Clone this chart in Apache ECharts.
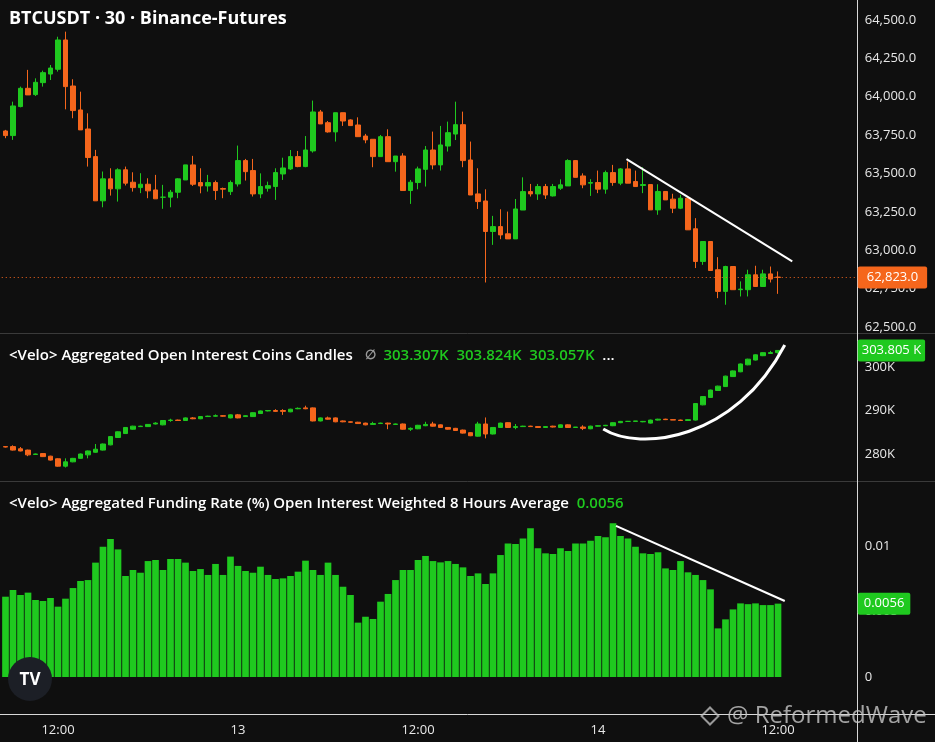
<!DOCTYPE html>
<html><head><meta charset="utf-8">
<script src="https://cdn.jsdelivr.net/npm/echarts@6/dist/echarts.min.js"></script>
<style>html,body{margin:0;padding:0;background:#0f0f0f}#c{width:935px;height:742px}</style>
</head><body><div id="c"></div>
<script>
// ---------- DATA ----------
const firstCandle = { day: 12, hour: 8, minute: 30 };   // first 30-minute bar
const padBars = 10;                                       // empty slots right of last bar
const xTickLabels = { '12 12:00': '12:00', '13 00:00': '13', '13 12:00': '12:00', '14 00:00': '14', '14 12:00': '12:00' };

const priceOpen  = [63777,63747,63936,64055,64014,64092,64148,64179,64370,64070,63914,63790,63610,63322,63465,63400,63524,63443,63408,63430,63393,63345,63346,63378,63458,63556,63441,63419,63441,63402,63382,63432,63584,63519,63367,63404,63415,63497,63530,63610,63545,63647,63901,63831,63771,63896,63849,63816,63744,63723,63610,63740,63577,63614,63389,63441,63527,63653,63556,63679,63757,63818,63588,63367,63321,63122,63154,63107,63074,63262,63382,63367,63415,63354,63404,63419,63584,63484,63437,63441,63398,63506,63437,63530,63448,63422,63428,63263,63383,63333,63274,63339,63140,62927,63057,62873,62732,62894,62743,62743,62840,62764,62846,62825];
const priceHigh  = [63784,63968,64066,64175,64120,64170,64207,64391,64424,64114,64033,63892,63654,63513,63534,63534,63545,63508,63502,63469,63491,63426,63393,63469,63556,63615,63534,63491,63454,63408,63454,63682,63595,63595,63501,63447,63534,63603,63653,63647,63744,63975,63914,63842,63896,63896,63853,63866,63758,63723,63751,63788,63614,63632,63458,63545,63679,63773,63810,63838,63968,63903,63708,63534,63397,63224,63267,63252,63334,63475,63432,63432,63432,63432,63462,63593,63588,63501,63463,63519,63519,63556,63535,63578,63519,63541,63428,63430,63383,63368,63361,63339,63209,63057,63057,62955,62899,62894,62797,62873,62899,62873,62894,62862];
const priceLow   = [63730,63719,63931,64012,64005,64066,64109,64164,63918,63860,63784,63545,63322,63280,63356,63317,63422,63382,63372,63339,63335,63270,63280,63339,63458,63419,63371,63382,63328,63339,63360,63415,63454,63350,63339,63382,63328,63458,63523,63541,63541,63636,63823,63766,63708,63810,63810,63740,63697,63541,63610,63577,63512,63389,63302,63397,63415,63527,63519,63643,63718,63541,63360,63269,62790,63035,63072,63074,63074,63262,63350,63328,63334,63350,63393,63419,63475,63404,63354,63372,63368,63420,63424,63437,63415,63372,63263,63231,63328,63242,63268,63133,62884,62905,62868,62688,62645,62743,62699,62699,62764,62768,62790,62716];
const priceClose = [63747,63940,64055,64012,64094,64157,64187,64370,64066,63910,63784,63604,63322,63465,63400,63524,63437,63408,63430,63387,63335,63346,63378,63465,63556,63430,63419,63441,63389,63398,63441,63584,63512,63367,63415,63421,63506,63536,63610,63545,63653,63901,63823,63771,63896,63842,63812,63740,63719,63610,63740,63577,63614,63389,63443,63530,63653,63556,63686,63766,63818,63584,63360,63317,63122,63154,63100,63074,63269,63382,63367,63415,63360,63415,63426,63584,63475,63426,63441,63398,63506,63441,63530,63437,63415,63428,63263,63383,63328,63274,63339,63133,62927,63057,62868,62732,62894,62743,62747,62840,62764,62846,62812,62823];
const lastPrice = 62823.0;

// Open interest, thousands of coins
const oiOpen  = [281.7,281.7,281.2,280.9,279.9,280.1,279.5,278.9,277.2,278.2,279.0,279.8,280.4,280.9,282.1,283.8,284.7,285.7,286.3,286.3,286.9,286.7,287.7,287.8,287.7,288.3,288.1,288.6,288.7,288.8,288.3,289.0,288.6,288.6,289.3,289.9,290.0,290.0,289.7,290.4,290.6,290.6,287.6,288.3,288.3,287.6,287.4,287.3,287.1,286.8,287.0,287.1,286.8,286.9,285.7,285.8,286.5,286.9,286.7,286.1,285.9,285.5,284.9,284.1,286.9,284.6,286.1,287.2,286.1,286.3,286.4,286.3,286.1,286.4,286.1,286.7,286.1,286.2,285.8,286.4,286.5,286.5,287.2,287.5,287.5,287.4,287.1,287.8,288.0,287.9,287.8,287.7,287.8,291.3,293.0,294.6,295.5,297.8,298.9,300.5,301.6,302.6,303.1,303.307];
const oiHigh  = [281.8,282.0,281.6,281.0,280.1,280.2,279.6,279.0,279.0,279.1,280.1,280.8,282.3,282.4,284.1,285.2,286.2,286.5,286.5,286.9,287.3,287.8,288.1,287.9,288.4,288.5,288.7,288.8,289.1,288.9,289.1,289.2,288.9,289.6,290.0,290.1,290.3,290.3,290.4,290.7,291.1,290.7,288.4,288.6,288.4,287.7,287.5,287.4,287.2,287.4,287.2,287.2,287.0,287.0,286.1,286.7,287.4,287.4,286.8,286.2,286.0,285.6,285.0,287.4,288.4,286.2,287.2,287.3,286.9,286.5,286.5,286.4,286.4,286.5,286.8,286.8,286.2,286.6,286.5,286.6,286.7,287.3,287.6,287.6,287.6,287.6,287.9,288.1,288.1,288.0,287.9,288.0,291.7,293.3,294.8,295.7,298.0,299.2,300.8,301.9,302.9,303.4,303.7,303.824];
const oiLow   = [281.5,280.8,280.6,279.5,279.8,279.3,278.5,277.1,276.9,278.1,278.9,279.0,280.3,280.8,282.0,283.7,284.6,285.6,286.2,286.2,286.8,286.6,287.4,287.6,287.6,288.0,288.0,288.5,288.6,288.6,288.2,288.2,288.5,288.5,289.2,289.8,289.7,289.0,289.6,290.3,290.3,287.5,287.5,287.9,287.3,287.3,287.2,286.9,286.6,286.7,286.9,285.7,286.7,285.6,285.3,285.7,286.4,286.3,286.0,285.6,285.3,284.7,284.1,284.0,283.6,284.5,286.0,286.0,285.7,286.2,286.2,286.0,286.0,286.1,286.0,286.0,286.0,285.5,285.7,286.3,286.4,286.4,287.1,287.4,287.4,287.3,287.0,287.7,287.8,287.8,287.6,287.6,287.7,291.2,292.9,294.5,295.4,297.7,298.8,300.4,301.5,302.5,303.0,303.057];
const oiClose = [281.6,280.9,280.7,279.8,280.0,279.4,278.6,277.2,278.2,279.0,280.0,280.7,281.1,282.3,284.0,285.1,286.1,286.4,286.4,286.8,287.1,287.7,287.8,287.7,288.3,288.1,288.6,288.7,288.8,288.7,289.0,288.3,288.8,289.5,289.9,290.0,289.8,289.8,290.3,290.5,290.4,287.6,288.3,288.0,287.4,287.4,287.3,287.0,286.7,287.0,287.1,286.9,286.9,285.7,285.9,286.6,286.8,286.4,286.1,285.7,285.4,284.8,284.2,286.9,284.6,286.1,287.1,286.1,286.3,286.4,286.3,286.1,286.3,286.2,286.7,286.1,286.2,285.9,286.4,286.5,286.6,287.2,287.5,287.5,287.6,287.5,287.8,288.0,287.9,287.8,287.7,287.9,291.6,293.2,294.7,295.6,297.9,299.1,300.7,301.8,302.8,303.3,303.307,303.805];
const oiHeader = ['303.307K', '303.824K', '303.057K'];
const lastOI = 303.805;

// Funding rate (%), OI-weighted 8h average
const funding = [0.00613,0.00664,0.00626,0.00644,0.00588,0.00580,0.00603,0.00537,0.00598,0.00679,0.00733,0.00740,0.00873,0.00995,0.01053,0.00974,0.00771,0.00817,0.00796,0.00885,0.00893,0.00817,0.00901,0.00901,0.00873,0.00809,0.00824,0.00779,0.00863,0.00779,0.00919,0.00848,0.00809,0.00796,0.00842,0.00779,0.00748,0.00753,0.00771,0.00804,0.00888,0.00817,0.00779,0.00873,0.00779,0.00689,0.00626,0.00415,0.00460,0.00443,0.00575,0.00634,0.00740,0.00817,0.00817,0.00893,0.00924,0.00885,0.00875,0.00885,0.00863,0.00837,0.00771,0.00791,0.00710,0.00791,0.00931,0.01020,0.01015,0.01058,0.01135,0.00982,0.00944,0.00939,0.00982,0.00962,0.01020,0.01020,0.01040,0.01076,0.01066,0.01173,0.01076,0.01058,0.00995,0.00944,0.00939,0.00952,0.00829,0.00817,0.00885,0.00799,0.00779,0.00740,0.00669,0.00371,0.00440,0.00516,0.00562,0.00556,0.00562,0.00549,0.00549,0.00560];
const lastFunding = 0.0056;

// Hand-drawn annotations, in [bar index, value]
const priceTrend = [[82.8, 63593], [104.9, 62927]];
const oiCurve = [[79.7, 285.75], [84.6, 280.46], [97.3, 283.2], [103.9, 305.06]];
const fundingTrend = [[81.4, 0.01153], [103.9, 0.0058]];

// ---------- BUILD ----------
const UP = '#1fc91f', DOWN = '#f5661c', TXT = '#e8e8e8', BG = '#0f0f0f';
const nBars = priceOpen.length;
const pad2 = n => (n < 10 ? '0' : '') + n;
const categories = [];
{
  let d = firstCandle.day, h = firstCandle.hour, m = firstCandle.minute;
  for (let i = 0; i < nBars + padBars; i++) {
    categories.push(d + ' ' + pad2(h) + ':' + pad2(m));
    m += 30; if (m >= 60) { m -= 60; h += 1; } if (h >= 24) { h -= 24; d += 1; }
  }
}
const priceData = priceOpen.map((o, i) => [o, priceClose[i], priceLow[i], priceHigh[i]]);
const oiData = oiOpen.map((o, i) => [o, oiClose[i], oiLow[i], oiHigh[i]]);

const font = "'Open Sans', 'Noto Sans', sans-serif";
const G_LEFT = 1.75, G_RIGHT = 78.25;
const labelStyle = { color: TXT, fontSize: 13, fontFamily: font, margin: 8 };
const fmtPrice = v => v.toLocaleString('en-US', { minimumFractionDigits: 1, maximumFractionDigits: 1 });
const HIDDEN = { color: 'rgba(0,0,0,0)', width: 1 };

const chart = echarts.init(document.getElementById('c'), null, { renderer: 'canvas' });
const option = {
  backgroundColor: BG,
  animation: false,
  title: [
    { left: 4, top: 5, text: 'BTCUSDT · 30 · Binance-Futures',
      textStyle: { color: '#ffffff', fontSize: 18, fontWeight: 'bold', fontFamily: font } },
    { left: 4, top: 343,
      text: '<Velo> Aggregated Open Interest Coins Candles {g|∅}  {v|' + oiHeader.join('}  {v|') + '}  {d|...}',
      textStyle: { color: '#ffffff', fontSize: 15, fontWeight: 600, fontFamily: font,
        rich: { g: { color: '#9a9a9a', fontSize: 13, fontFamily: font, padding: [0, 0, 0, 8] },
                v: { color: UP, fontSize: 15, fontWeight: 600, fontFamily: font },
                d: { color: '#ffffff', fontSize: 15, fontWeight: 600, fontFamily: font } } } },
    { left: 4, top: 491,
      text: '<Velo> Aggregated Funding Rate (%) Open Interest Weighted 8 Hours Average  {v|' + lastFunding.toFixed(4) + '}',
      textStyle: { color: '#ffffff', fontSize: 15, fontWeight: 600, fontFamily: font,
        rich: { v: { color: UP, fontSize: 15, fontWeight: 600, fontFamily: font } } } }
  ],
  grid: [
    { left: G_LEFT, right: G_RIGHT, top: 20, height: 307 },
    { left: G_LEFT, right: G_RIGHT, top: 345.25, height: 130.5 },
    { left: G_LEFT, right: G_RIGHT, top: 480.5, height: 196.5 }
  ],
  xAxis: [0, 1, 2].map(k => ({
    type: 'category', gridIndex: k, data: categories, boundaryGap: true,
    show: k === 2,
    axisLine: { show: false }, axisTick: { show: false }, splitLine: { show: false },
    axisLabel: k === 2 ? {
      color: TXT, fontSize: 13, fontFamily: font, margin: 47,
      interval: (i, v) => xTickLabels[v] !== undefined,
      formatter: v => xTickLabels[v] || ''
    } : { show: false }
  })),
  yAxis: [
    { type: 'value', gridIndex: 0, position: 'right', min: 62500, max: 64500, interval: 250,
      axisLine: { show: false }, axisTick: { show: false }, splitLine: { show: false },
      axisLabel: Object.assign({}, labelStyle, { formatter: fmtPrice }) },
    { type: 'value', gridIndex: 1, position: 'right', min: 275, max: 305, interval: 5,
      axisLine: { show: false }, axisTick: { show: false }, splitLine: { show: false },
      axisLabel: Object.assign({}, labelStyle, { formatter: v => (Math.round(v) % 10 === 0 ? Math.round(v) + 'K' : '') }) },
    { type: 'value', gridIndex: 2, position: 'right', min: 0, max: 0.015, interval: 0.005,
      axisLine: { show: false }, axisTick: { show: false }, splitLine: { show: false },
      axisLabel: Object.assign({}, labelStyle, { formatter: v => (v > 0.012 ? '' : String(+v.toFixed(4))) }) }
  ],
  series: [
    { type: 'candlestick', xAxisIndex: 0, yAxisIndex: 0, data: priceData, barWidth: '72%',
      itemStyle: { color: UP, color0: DOWN, borderColor: UP, borderColor0: DOWN, borderWidth: 1 },
      markLine: { symbol: 'none', silent: true, animation: false, precision: 1,
        lineStyle: { color: DOWN, type: [1, 3], width: 1 },
        label: { position: 'end', distance: 1, formatter: fmtPrice(lastPrice), color: '#ffffff',
          backgroundColor: DOWN, padding: [5, 9, 4, 9], fontSize: 13, fontFamily: font, borderRadius: 2 },
        data: [{ yAxis: lastPrice }] } },
    { type: 'candlestick', xAxisIndex: 1, yAxisIndex: 1, data: oiData, barWidth: '66%',
      itemStyle: { color: UP, color0: DOWN, borderColor: UP, borderColor0: DOWN, borderWidth: 1 },
      markLine: { symbol: 'none', silent: true, animation: false, precision: 3,
        lineStyle: HIDDEN,
        label: { show: true, position: 'end', distance: 1, formatter: lastOI.toFixed(3) + ' K', color: '#ffffff',
          backgroundColor: UP, padding: [5, 4, 4, 4], fontSize: 13, fontFamily: font, borderRadius: 2 },
        data: [{ yAxis: lastOI }] } },
    { type: 'bar', xAxisIndex: 2, yAxisIndex: 2, data: funding, barCategoryGap: '11%',
      itemStyle: { color: UP },
      markLine: { symbol: 'none', silent: true, animation: false, precision: 5,
        lineStyle: HIDDEN,
        label: { show: true, position: 'end', distance: 1, formatter: lastFunding.toFixed(4), color: '#ffffff',
          backgroundColor: UP, padding: [5, 6, 4, 6], fontSize: 13, fontFamily: font, borderRadius: 2 },
        data: [{ yAxis: lastFunding }] } }
  ],
  graphic: [
    { type: 'line', id: 'sep1', shape: { x1: 0, y1: 333.5, x2: 935, y2: 333.5 }, style: { stroke: '#3a3a3a', lineWidth: 1 }, z: 1 },
    { type: 'line', id: 'sep2', shape: { x1: 0, y1: 481.5, x2: 935, y2: 481.5 }, style: { stroke: '#3a3a3a', lineWidth: 1 }, z: 1 },
    { type: 'line', id: 'sep3', shape: { x1: 0, y1: 714.5, x2: 935, y2: 714.5 }, style: { stroke: '#d8d8d8', lineWidth: 1 }, z: 1 },
    { type: 'line', id: 'vax', shape: { x1: 857.5, y1: 0, x2: 857.5, y2: 742 }, style: { stroke: '#d8d8d8', lineWidth: 1 }, z: 1 },
    { type: 'circle', id: 'tvc', shape: { cx: 30, cy: 679, r: 22 }, style: { fill: '#1c1f26' }, z: 50 },
    { type: 'text', id: 'tvt', x: 30, y: 680, z: 51,
      style: { text: 'TV', fill: '#ffffff', font: "bold 17px " + font, textAlign: 'center', textVerticalAlign: 'middle' } },
    { type: 'rect', id: 'wm1', x: 710, y: 716, rotation: Math.PI / 4, shape: { x: -6, y: -6, width: 12, height: 12 },
      style: { fill: 'none', stroke: 'rgba(200,200,200,0.75)', lineWidth: 2 }, z: 60 },
    { type: 'text', id: 'wmt', x: 727, y: 716, z: 60,
      style: { text: '@ ReformedWave', fill: 'rgba(200,200,200,0.8)', font: "24px " + font, textVerticalAlign: 'middle' } }
  ]
};
chart.setOption(option);

// Annotation lines placed through the chart's own scales
function toPx(gridIdx, pt) {
  const a = chart.convertToPixel({ xAxisIndex: gridIdx }, categories[0]);
  const b = chart.convertToPixel({ xAxisIndex: gridIdx }, categories[1]);
  const y = chart.convertToPixel({ yAxisIndex: gridIdx }, pt[1]);
  return [a + (b - a) * pt[0], y];
}
const p = priceTrend.map(q => toPx(0, q));
const c = oiCurve.map(q => toPx(1, q));
const f = fundingTrend.map(q => toPx(2, q));
chart.setOption({
  graphic: [
    { type: 'line', id: 'ptr', z: 40, shape: { x1: p[0][0], y1: p[0][1], x2: p[1][0], y2: p[1][1] }, style: { stroke: '#ffffff', lineWidth: 2 } },
    { type: 'bezierCurve', id: 'oic', z: 40, shape: { x1: c[0][0], y1: c[0][1], cpx1: c[1][0], cpy1: c[1][1], cpx2: c[2][0], cpy2: c[2][1], x2: c[3][0], y2: c[3][1] },
      style: { stroke: '#ffffff', lineWidth: 3, fill: 'none' } },
    { type: 'line', id: 'ftr', z: 40, shape: { x1: f[0][0], y1: f[0][1], x2: f[1][0], y2: f[1][1] }, style: { stroke: '#ffffff', lineWidth: 2 } }
  ]
});
</script></body></html>
